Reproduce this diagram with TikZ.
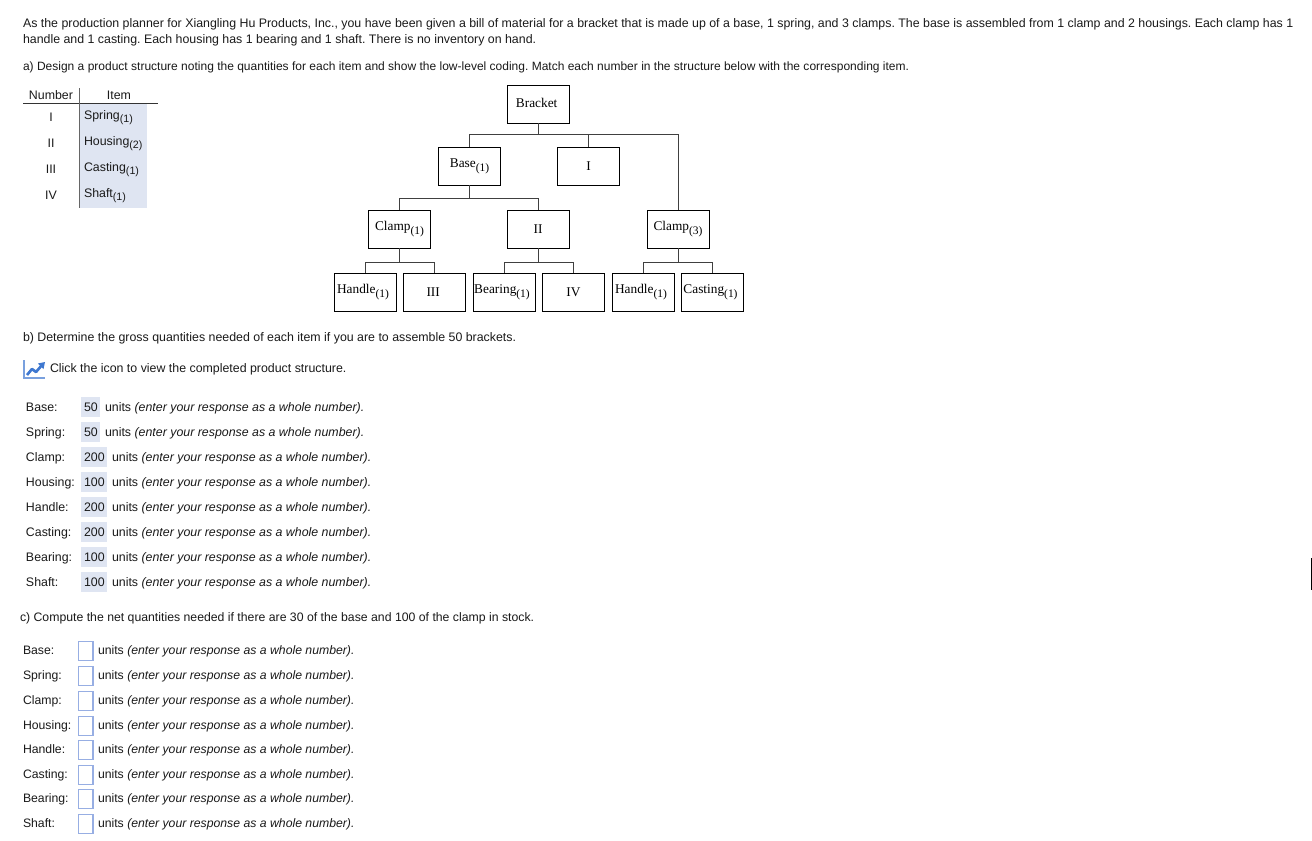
\documentclass[tikz,border=0pt]{standalone}
\usepackage{fontspec}
\setmainfont{Liberation Sans}
\newfontfamily\serifbox{Liberation Serif}
\definecolor{ansfill}{HTML}{DFE5F2}
\definecolor{inbox}{HTML}{97AEE3}
\definecolor{iconblue}{HTML}{3F78D0}
\definecolor{ink}{HTML}{1A1A1A}
\newcommand{\sbs}[1]{\raisebox{-2.6pt}{\fontsize{8}{8}\selectfont #1}}
\newcommand{\sbr}[1]{\raisebox{-2.8pt}{\fontsize{8.6}{9}\selectfont #1}}
\tikzset{
  txt/.style={anchor=base west,inner sep=0pt,outer sep=0pt,text=ink,font=\frenchspacing\fontsize{9.28}{11}\selectfont},
  ctr/.style={txt,anchor=base},
  part/.style={draw=black,line width=0.6pt,inner sep=0pt,minimum width=46.5pt,minimum height=28.5pt,
    font=\serifbox\fontsize{10}{12}\selectfont},
  link/.style={draw=black!75,line width=0.7pt},
  entry/.style={draw=inbox,line width=1pt,fill=white,inner sep=0pt,anchor=north west,minimum width=11pt,minimum height=14pt}
}
\begin{document}
\begin{tikzpicture}[x=0.75pt,y=-0.75pt]
\useasboundingbox (0,0) rectangle (1312,840);
\fill[white] (0,0) rectangle (1312,840);

% statement
\node[txt] (t1) at (23,27) {As the production planner for Xiangling Hu Products, Inc., you have been given a bill of material for a bracket that is made up of a base, 1 spring, and 3 clamps. The base is assembled from 1 clamp and 2 housings. Each clamp has 1};
\node[txt] (t2) at (23,43) {handle and 1 casting. Each housing has 1 bearing and 1 shaft. There is no inventory on hand.};
\node[txt,font=\frenchspacing\fontsize{9.01}{11}\selectfont] (t3) at (23,70) {a) Design a product structure noting the quantities for each item and show the low-level coding. Match each number in the structure below with the corresponding item.};

% key table
\fill[ansfill] (80,104) rectangle (147,207.5);
\coordinate (hl) at (23,103.5); \coordinate (hr) at (158,103.5);
\coordinate (vt) at (79.5,88); \coordinate (vb) at (79.5,207.5);
\draw[black!80,line width=0.6pt] (hl) -- (hr);
\draw[black!60,line width=0.7pt] (vt) -- (vb);
\node[ctr] (hn) at (51,99.5) {Number};
\node[ctr] (hi) at (119,99.5) {Item};
\node[ctr] (n1) at (51,121) {I};
\node[ctr] (n2) at (51,147) {II};
\node[ctr] (n3) at (51,173) {III};
\node[ctr] (n4) at (51,199) {IV};
\node[txt] (i1) at (84,119) {Spring\sbs{(1)}};
\node[txt] (i2) at (84,145) {Housing\sbs{(2)}};
\node[txt] (i3) at (84,171) {Casting\sbs{(1)}};
\node[txt] (i4) at (84,197) {Shaft\sbs{(1)}};

% structure
\node[part] (br) at (538,104) {\hspace*{-2pt}\raisebox{1pt}{Bracket}};
\node[part] (ba) at (469.5,166) {Base\sbr{(1)}};
\node[part] (sp) at (588.5,166) {I};
\node[part] (c1) at (399.5,229) {Clamp\sbr{(1)}};
\node[part] (ho) at (538,229) {II};
\node[part] (c3) at (678,229) {Clamp\sbr{(3)}};
\node[part] (h1) at (365,292) {\hspace*{-3pt}Handle\sbr{(1)}};
\node[part] (ca1) at (434.5,292) {\hspace*{-2pt}III};
\node[part] (be) at (504,292) {\hspace*{-3pt}Bearing\sbr{(1)}};
\node[part] (sh) at (573.5,292) {IV};
\node[part] (h3) at (643,292) {\hspace*{-3pt}Handle\sbr{(1)}};
\node[part] (ca3) at (712.5,292) {\hspace*{-3pt}Casting\sbr{(1)}};
\draw[link] (br.south) -- (br.south |- 0,134) -| (ba.north);
\draw[link] (br.south |- 0,134) -| (sp.north);
\draw[link] (br.south |- 0,134) -| (c3.north);
\draw[link] (ba.south) -- (ba.south |- 0,198) -| (c1.north);
\draw[link] (ba.south |- 0,198) -| (ho.north);
\draw[link] (c1.south) -- (c1.south |- 0,262) -| (h1.north);
\draw[link] (c1.south |- 0,262) -| (ca1.north);
\draw[link] (ho.south) -- (ho.south |- 0,262) -| (be.north);
\draw[link] (ho.south |- 0,262) -| (sh.north);
\draw[link] (c3.south) -- (c3.south |- 0,262) -| (h3.north);
\draw[link] (c3.south |- 0,262) -| (ca3.north);

% part b
\node[txt] (tb) at (23,341) {b) Determine the gross quantities needed of each item if you are to assemble 50 brackets.};
\draw[iconblue!70,line width=1.1pt] (24,360) -- (24,378) -- (45,378);
\draw[iconblue,line width=2pt,line join=round] (27,375) -- (32,369) -- (36,372) -- (42,365);
\fill[iconblue] (45,362) -- (38,363.5) -- (43.5,369) -- cycle;
\node[txt] (tc) at (50,372) {Click the icon to view the completed product structure.};

\foreach \k/\lab/\val/\yy/\w in {1/Base/50/407/19,2/Spring/50/432/19,3/Clamp/200/457/26,4/Housing/100/482/26,5/Handle/200/507/26,6/Casting/200/532/26,7/Bearing/100/557/26,8/Shaft/100/582/26}{
  \node[txt] (bl\k) at (26,\yy+4) {\lab:};
  \fill[ansfill] (81,\yy-10) rectangle ++(\w,20);
  \node[txt] (bv\k) at (84,\yy+4) {\val};
  \node[txt] (bu\k) at (86+\w,\yy+4) {units \textit{(enter your response as a whole number).}};
}

% part c
\node[txt,font=\frenchspacing\fontsize{9.2}{11}\selectfont] (tcc) at (20,621) {c) Compute the net quantities needed if there are 30 of the base and 100 of the clamp in stock.};
\foreach \k/\lab/\yy in {1/Base/650,2/Spring/675,3/Clamp/700,4/Housing/725,5/Handle/749,6/Casting/774,7/Bearing/798,8/Shaft/823}{
  \node[txt,font=\frenchspacing\fontsize{9.18}{11}\selectfont] (cl\k) at (23,\yy+4) {\lab:};
  \node[entry] (ce\k) at (77.5,\yy-9) {};
  \node[txt,font=\frenchspacing\fontsize{9.18}{11}\selectfont] (cu\k) at (98,\yy+4) {units \textit{(enter your response as a whole number).}};
}

% edge mark
\fill[black] (1310.5,558) rectangle (1312,590);
\end{tikzpicture}
\end{document}
